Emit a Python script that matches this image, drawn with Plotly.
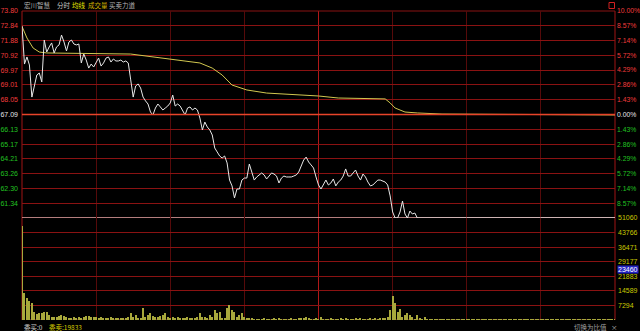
import plotly.graph_objects as go

# ---------------- data ----------------
prev_close = 67.09
price_levels = [73.80, 72.84, 71.88, 70.92, 69.97, 69.01, 68.05, 67.09,
                66.13, 65.17, 64.21, 63.26, 62.30, 61.34, 60.38]
price_labels = ["73.80", "72.84", "71.88", "70.92", "69.97", "69.01", "68.05", "67.09",
                "66.13", "65.17", "64.21", "63.26", "62.30", "61.34", ""]
pct_labels = ["10.00%", "8.57%", "7.14%", "5.72%", "4.29%", "2.86%", "1.43%", "0.00%",
              "1.43%", "2.86%", "4.29%", "5.72%", "7.14%", "8.57%", ""]
vol_levels = [0, 7294, 14589, 21883, 29177, 36471, 43766, 51060]
vol_labels = ["", "7294", "14589", "21883", "29177", "36471", "43766", "51060"]

price_minutes = list(range(0, 161)) + [240]
price = [
    72.84, 70.36, 70.82, 70.30, 68.22, 68.94, 69.65, 69.78, 69.20, 71.92,
    71.14, 71.47, 71.73, 71.08, 71.47, 71.60, 72.24, 71.79, 71.21, 71.79,
    71.92, 71.66, 71.60, 71.66, 70.43, 71.01, 70.62, 70.10, 70.36, 70.17,
    70.43, 70.75, 70.23, 70.43, 70.75, 70.82, 70.49, 70.69, 70.56, 70.56,
    70.62, 70.49, 70.56, 70.43, 69.33, 68.22, 68.94, 69.07, 68.81, 68.22,
    67.97, 67.77, 67.25, 67.06, 67.51, 67.77, 67.58, 67.38, 67.51, 67.64,
    67.84, 68.35, 67.64, 67.77, 67.64, 67.32, 67.06, 67.51, 67.58, 67.38,
    67.51, 67.38, 66.86, 66.09, 66.60, 66.28, 66.09, 65.76, 64.92, 64.66,
    64.40, 64.27, 64.40, 63.95, 62.84, 62.46, 61.68, 62.26, 62.26, 62.84,
    62.97, 62.97, 63.88, 63.36, 62.84, 63.04, 63.17, 63.30, 63.17, 62.91,
    63.10, 63.30, 63.23, 63.10, 62.65, 62.97, 63.10, 63.04, 63.04, 63.04,
    63.10, 63.17, 63.36, 63.75, 64.14, 64.33, 64.01, 63.82, 63.62, 63.04,
    62.52, 62.26, 62.58, 62.84, 62.52, 62.65, 62.91, 62.46, 62.71, 62.84,
    63.10, 63.56, 63.10, 63.10, 63.30, 63.49, 63.10, 62.84, 63.23, 63.04,
    62.71, 62.46, 62.52, 62.71, 62.84, 62.84, 62.78, 62.71, 62.52, 61.81,
    60.77, 60.38, 60.38, 60.77, 61.48, 60.64, 60.38, 60.83, 60.64, 60.70,
    60.38, 60.38,
]

avg_minutes = [0, 2, 4.5, 7, 10, 44, 72, 77, 81, 85, 91, 99, 120, 128, 147, 149, 151, 155, 160, 170, 240]
avg_price = [72.80, 72.05, 71.40, 71.14, 71.08, 71.01, 70.43, 70.10, 69.65, 69.00, 68.68,
             68.48, 68.29, 68.16, 68.10, 67.84, 67.51, 67.25, 67.19, 67.12, 67.06]

vol_minutes = list(range(0, 241))
volume = [
    47000, 13300, 10800, 9500, 8300, 4200, 2800, 3300, 3700, 4200,
    4200, 2500, 1700, 1700, 1300, 2000, 2500, 2000, 1700, 1200,
    800, 1700, 800, 1700, 800, 1700, 2000, 2000, 1300, 1700,
    1300, 1200, 1700, 1200, 800, 800, 1300, 1000, 700, 900,
    600, 700, 800, 1500, 3700, 1700, 2500, 1000, 800, 5800,
    1700, 2500, 3300, 2000, 1700, 1700, 2000, 2500, 3300, 1700,
    1200, 1500, 1000, 1300, 1000, 900, 1000, 1500, 1200, 900,
    1200, 1700, 3300, 1700, 1700, 1000, 2500, 1700, 5000, 3300,
    4200, 800, 800, 5800, 7500, 5000, 4200, 1700, 2500, 3300,
    1700, 800, 800, 800, 400, 400, 500, 400, 600, 300,
    500, 400, 600, 300, 700, 400, 500, 300, 400, 600,
    300, 500, 800, 600, 900, 1300, 700, 500, 400, 600,
    500, 1700, 400, 500, 300, 600, 400, 300, 500, 700,
    400, 600, 500, 300, 400, 600, 500, 800, 400, 300,
    500, 600, 400, 900, 500, 600, 700, 1000, 1700, 5000,
    12000, 8300, 4200, 5500, 1700, 2500, 3300, 2500, 1300, 500,
    2500, 800, 400, 1300, 400, 300, 200, 150, 250, 200,
    150, 200, 300, 150, 200, 250, 150, 200, 150, 300,
    200, 150, 250, 200, 150, 200, 300, 150, 200, 250,
    150, 200, 150, 300, 200, 150, 250, 200, 150, 200,
    300, 150, 200, 250, 150, 200, 150, 300, 200, 150,
    250, 200, 150, 200, 300, 150, 200, 250, 150, 200,
    150, 300, 200, 150, 250, 200, 150, 200, 300, 150,
    200, 250, 150, 200, 150, 300, 200, 150, 250, 200,
    200,
]

# ---------------- styling ----------------
RED = "#f03c3c"
GREEN = "#22c022"
WHITE = "#e6e6e6"
YELLOW = "#c8c800"
GRID = "#8a1212"
VGRID = "#560a0a"
FONT = "Liberation Sans"

W, H = 640, 331
ML, MR, MT, MB = 22, 25, 11, 11
PW, PH = W - ML - MR, H - MT - MB


def px(x):
    return (x - ML) / PW


def py(y):
    return (H - MB - y) / PH


split = py(218)


def colored(labels, levels):
    out = []
    for lab, lv in zip(labels, levels):
        if lab == "":
            out.append("")
            continue
        c = RED if lv > prev_close + 1e-6 else (GREEN if lv < prev_close - 1e-6 else WHITE)
        out.append(f'<span style="color:{c}">{lab}</span>')
    return out


fig = go.Figure()
fig.add_trace(go.Bar(x=vol_minutes, y=volume, width=0.45, marker=dict(color="#a8a83c", line=dict(width=0)),
                     xaxis="x2", yaxis="y2", hoverinfo="skip"))
fig.add_trace(go.Scatter(x=avg_minutes, y=avg_price, mode="lines",
                         line=dict(color="#d2c850", width=1), hoverinfo="skip"))
fig.add_trace(go.Scatter(x=price_minutes, y=price, mode="lines",
                         line=dict(color="#e8e8e8", width=1), hoverinfo="skip"))
# invisible trace for the right percentage axis
fig.add_trace(go.Scatter(x=[0], y=[prev_close], yaxis="y3", mode="markers",
                         marker=dict(opacity=0), hoverinfo="skip"))

xcommon = dict(range=[0, 240], tickvals=[30, 60, 90, 150, 180, 210], showgrid=True,
               gridcolor=VGRID, gridwidth=1, showticklabels=False, zeroline=False,
               showline=False, ticks="", fixedrange=True, automargin=False)

fig.update_layout(
    width=W, height=H,
    margin=dict(l=ML, r=MR, t=MT, b=MB, pad=0, autoexpand=False),
    paper_bgcolor="black", plot_bgcolor="black",
    showlegend=False, hovermode=False, bargap=0,
    font=dict(family=FONT, size=7, color=WHITE),
    xaxis=dict(domain=[0, 1], anchor="y", **xcommon),
    xaxis2=dict(domain=[0, 1], anchor="y2", matches="x", **xcommon),
    yaxis=dict(domain=[split, 1], range=[60.38, 73.80], tickvals=price_levels,
               ticktext=colored(price_labels, price_levels), side="left",
               showgrid=True, gridcolor=GRID, gridwidth=1, zeroline=False, ticks="",
               tickfont=dict(family=FONT, size=7), anchor="x", ticklabelstandoff=3,
               automargin=False),
    yaxis3=dict(overlaying="y", range=[60.38, 73.80], tickvals=price_levels,
                ticktext=colored(pct_labels, price_levels), side="right", showgrid=False,
                zeroline=False, ticks="", tickfont=dict(family=FONT, size=6.8), anchor="x",
                ticklabelstandoff=1, automargin=False),
    yaxis2=dict(domain=[0, split], range=[0, 51060], tickvals=vol_levels, ticktext=vol_labels,
                side="right", showgrid=True, gridcolor=GRID, gridwidth=1, zeroline=False,
                ticks="", tickfont=dict(family=FONT, size=7, color=YELLOW), anchor="x2",
                ticklabelstandoff=2, automargin=False),
)

shapes = [
    # previous close line
    dict(type="line", xref="x", yref="y", x0=0, x1=240, y0=prev_close, y1=prev_close,
         line=dict(color="#e8442a", width=1.6), layer="above"),
    # bottom of price panel
    dict(type="line", xref="x", yref="y", x0=0, x1=240, y0=60.38, y1=60.38,
         line=dict(color="#f0a8a8", width=1.4), layer="below"),
    # middle vertical line
    dict(type="line", xref="x", yref="paper", x0=120, x1=120, y0=0, y1=1,
         line=dict(color="#b01818", width=1), layer="below"),
    # borders
    dict(type="line", xref="paper", yref="paper", x0=0, x1=0, y0=0, y1=1,
         line=dict(color="#a01414", width=1), layer="below"),
    dict(type="line", xref="paper", yref="paper", x0=1, x1=1, y0=0, y1=1,
         line=dict(color="#a01414", width=1), layer="below"),
    dict(type="line", xref="paper", yref="paper", x0=0, x1=1, y0=1, y1=1,
         line=dict(color=GRID, width=1), layer="below"),
    # dotted volume baseline
    dict(type="line", xref="paper", yref="y2", x0=0, x1=1, y0=0, y1=0,
         line=dict(color="#a04040", width=1, dash="dot"), layer="below"),
    # small square icon
    dict(type="rect", xref="paper", yref="paper", x0=px(609), x1=px(614.5), y0=py(8.5), y1=py(2.5),
         line=dict(color="#d02020", width=1)),
]
fig.update_layout(shapes=shapes)

CJK = "Noto Sans CJK SC"
ann = []
header = [("宏川智慧", 22, "#b4b4b4"), ("分时", 55, "#c8c8c8"), ("均线", 70, "#e6e600"),
          ("成交量", 86, "#d2b400"), ("买卖力道", 107, "#b4b4b4")]
for txt, x, c in header:
    ann.append(dict(text=txt, x=px(x), y=py(5), xref="paper", yref="paper", xanchor="left",
                    yanchor="middle", showarrow=False, font=dict(family=CJK, size=6.5, color=c)))
footer = [("委买:0", 22, "#d0d0d0"), ("委卖:19833", 47, "#d2c800"),
          ("切换为比值", 572, "#a0a0a0"), ("×", 609, "#a0a0a0")]
for txt, x, c in footer:
    ann.append(dict(text=txt, x=px(x), y=py(326.5), xref="paper", yref="paper", xanchor="left",
                    yanchor="middle", showarrow=False, font=dict(family=CJK, size=6.5, color=c)))
ann.append(dict(text="23460", x=px(617), y=py(269.5), xref="paper", yref="paper", xanchor="left",
                yanchor="middle", showarrow=False, bgcolor="#2424c0", borderpad=0,
                font=dict(family=FONT, size=7, color="white")))
fig.update_layout(annotations=ann)

fig.write_html("out.html")
